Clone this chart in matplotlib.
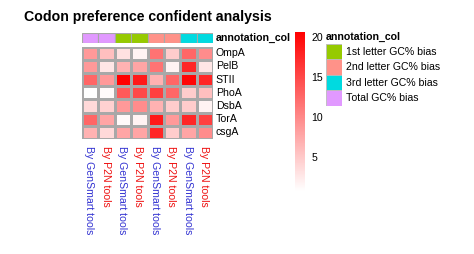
import numpy as np
import matplotlib
matplotlib.use("Agg")
import matplotlib.pyplot as plt
from matplotlib.colors import LinearSegmentedColormap
from matplotlib.patches import Rectangle

plt.rcParams['font.family'] = ['Liberation Sans', 'DejaVu Sans']

title = "Codon preference confident analysis"
rows = ["OmpA", "PelB", "STII", "PhoA", "DsbA", "TorA", "csgA"]
col_labels = ["By GenSmart tools", "By P2N tools"] * 4
col_label_colors = ["#3535D2", "#EE1111"] * 4
annotation_col = ["Total GC% bias", "Total GC% bias",
                  "1st letter GC% bias", "1st letter GC% bias",
                  "2nd letter GC% bias", "2nd letter GC% bias",
                  "3rd letter GC% bias", "3rd letter GC% bias"]
ann_levels = ["1st letter GC% bias", "2nd letter GC% bias",
              "3rd letter GC% bias", "Total GC% bias"]
ann_colors = {"1st letter GC% bias": "#96CA00",
              "2nd letter GC% bias": "#FF9289",
              "3rd letter GC% bias": "#00DAE0",
              "Total GC% bias": "#E199FF"}

OmpA = [8.8, 5.8, 3.2, 1.8, 11.7, 4.8, 12.7, 9.8]
PelB = [8.8, 2.8, 6.8, 7.8, 11.7, 1.8, 17.7, 2.8]
STII = [12.7, 8.8, 20.7, 18.7, 6.8, 12.7, 20.2, 17.7]
PhoA = [0.8, 1.2, 13.7, 15.1, 15.7, 12.7, 4.8, 5.8]
DsbA = [3.8, 4.4, 8.8, 9.8, 6.8, 4.8, 4.8, 1.8]
TorA = [12.7, 7.8, 1.2, 1.8, 18.7, 8.8, 17.7, 15.7]
csgA = [6.8, 3.8, 7.8, 7.8, 17.7, 4.8, 7.8, 9.8]
values = np.array([OmpA, PelB, STII, PhoA, DsbA, TorA, csgA])
cbar_ticks = [5, 10, 15, 20]

W, H = 474, 254
fig = plt.figure(figsize=(W / 100, H / 100), dpi=100)

def box(l, t, r, b):
    return fig.add_axes([l / W, 1 - b / H, (r - l) / W, (b - t) / H])

cmap = LinearSegmentedColormap.from_list("wr", ["#FFFFFF", "#FF0000"])
vmin, vmax = values.min(), values.max()
border = "#A8A8A8"
fs = 7.6

# heatmap
ax = box(82, 46.5, 213, 139)
nr, nc = values.shape
ax.pcolormesh(np.arange(nc + 1), np.arange(nr + 1), values, cmap=cmap,
              vmin=vmin, vmax=vmax, edgecolors=border, linewidth=0.8)
ax.set_xlim(0, nc)
ax.set_ylim(nr, 0)
ax.axis("off")
for i, r in enumerate(rows):
    ax.text(nc + 0.17, i + 0.5, r, ha="left", va="center", fontsize=fs)
for j, (lab, c) in enumerate(zip(col_labels, col_label_colors)):
    ax.text(j + 0.45, nr + 0.5, lab, rotation=270, ha="center", va="top",
            fontsize=fs, color=c, rotation_mode="default")

# annotation bar
axa = box(82, 33.3, 213, 42.8)
for j, a in enumerate(annotation_col):
    axa.add_patch(Rectangle((j, 0), 1, 1, facecolor=ann_colors[a],
                            edgecolor=border, linewidth=0.8))
axa.set_xlim(0, nc)
axa.set_ylim(0, 1)
axa.axis("off")
axa.text(nc + 0.17, 0.5, "annotation_col", ha="left", va="center",
         fontsize=fs, fontweight="bold")

# colorbar
axc = box(295, 31.7, 305, 191)
grad = np.linspace(vmin, vmax, 200).reshape(-1, 1)
axc.imshow(grad, cmap=cmap, vmin=vmin, vmax=vmax, aspect="auto",
           origin="lower", extent=[0, 1, vmin, vmax])
axc.set_xticks([])
axc.set_yticks(cbar_ticks)
axc.yaxis.tick_right()
axc.tick_params(axis="y", length=0, pad=4.5, labelsize=fs)
for s in axc.spines.values():
    s.set_visible(False)

# legend
fig.text(326 / W, 1 - 37 / H, "annotation_col", ha="left", va="center",
         fontsize=fs, fontweight="bold")
axl = box(326, 44, 342, 106)
for k, lev in enumerate(ann_levels):
    axl.add_patch(Rectangle((0, k), 1, 1, facecolor=ann_colors[lev],
                            edgecolor="#BBBBBB", linewidth=0.6))
    fig.text(346 / W, 1 - (44 + 15.5 * (k + 0.5)) / H, lev, ha="left",
             va="center", fontsize=fs)
axl.set_xlim(0, 1)
axl.set_ylim(4, 0)
axl.axis("off")

fig.text(24 / W, 1 - 17 / H, title, ha="left", va="center", fontsize=10.2,
         fontweight="bold")

fig.savefig("out.png", dpi=100)
